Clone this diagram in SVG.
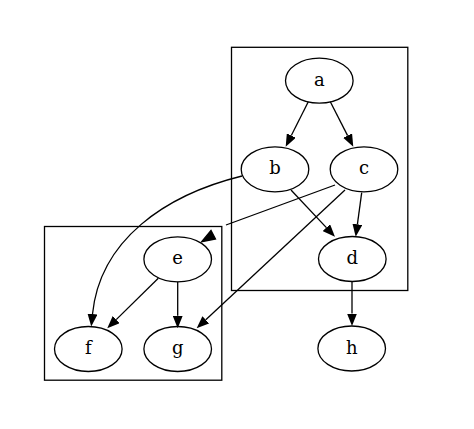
<svg xmlns="http://www.w3.org/2000/svg" width="474" height="429" viewBox="0 0 474 429">
<defs>
<style>
.cl{fill:none;stroke:#000;stroke-width:1.3}
.n ellipse{fill:none;stroke:#000;stroke-width:1.3}
.n text{font-family:"DejaVu Serif","Liberation Serif",serif;font-size:18px;text-anchor:middle;fill:#000}
.e{fill:none;stroke:#000;stroke-width:1.3}
.ah{fill:#000;stroke:#000;stroke-width:1.3}
</style>
<marker id="arr" viewBox="0 0 12.5 10" refX="0" refY="5" markerWidth="12.5" markerHeight="10" markerUnits="userSpaceOnUse" orient="auto">
<path d="M0,0 L12.5,5 L0,10 Z" fill="#000"/>
</marker>
</defs>
<rect width="474" height="429" fill="#fff"/>
<g id="clusters">
<rect id="cluster_right" class="cl" x="231.5" y="47.3" width="176.3" height="243.2"/>
<rect id="cluster_left" class="cl" x="44.5" y="226.5" width="177.3" height="153.7"/>
</g>
<g id="connectors">
<line class="e" x1="308.3" y1="101.7" x2="291.3" y2="135.5" marker-end="url(#arr)"/>
<line class="e" x1="330.3" y1="101.7" x2="347.6" y2="135.6" marker-end="url(#arr)"/>
<line class="e" x1="291" y1="190" x2="326.4" y2="227.6" marker-end="url(#arr)"/>
<line class="e" x1="361.7" y1="192.7" x2="357.4" y2="224.3" marker-end="url(#arr)"/>
<line class="e" x1="345" y1="190" x2="205.8" y2="319.8" marker-end="url(#arr)"/>
<line class="e" x1="335" y1="185" x2="226" y2="225"/>
<polygon class="ah" points="201.7,241.7 211,230.5 215.5,239"/>
<path class="e" d="M242,176 C165,195 100,240 92.5,314" marker-end="url(#arr)"/>
<line class="e" x1="158.3" y1="278.3" x2="116.2" y2="319.6" marker-end="url(#arr)"/>
<line class="e" x1="177.7" y1="281.7" x2="177.7" y2="315.8" marker-end="url(#arr)"/>
<line class="e" x1="352" y1="281.5" x2="352" y2="313.5" marker-end="url(#arr)"/>
</g>
<g id="a" class="n"><ellipse cx="319.3" cy="80.7" rx="33.8" ry="22.5"/><text x="319.3" y="85.8">a</text></g>
<g id="b" class="n"><ellipse cx="275" cy="169.3" rx="33.8" ry="22.5"/><text x="275" y="174.4">b</text></g>
<g id="c" class="n"><ellipse cx="364" cy="169.3" rx="33.8" ry="22.5"/><text x="364" y="174.4">c</text></g>
<g id="d" class="n"><ellipse cx="352.3" cy="259" rx="33.8" ry="22.5"/><text x="352.3" y="264.1">d</text></g>
<g id="e" class="n"><ellipse cx="177.7" cy="259.3" rx="33.8" ry="22.5"/><text x="177.7" y="264.4">e</text></g>
<g id="f" class="n"><ellipse cx="88.3" cy="349" rx="33.8" ry="22.5"/><text x="88.3" y="354.1">f</text></g>
<g id="g" class="n"><ellipse cx="177.7" cy="349" rx="33.8" ry="22.5"/><text x="177.7" y="354.1">g</text></g>
<g id="h" class="n"><ellipse cx="351.7" cy="348.5" rx="33.8" ry="22.5"/><text x="351.7" y="353.6">h</text></g>
</svg>
